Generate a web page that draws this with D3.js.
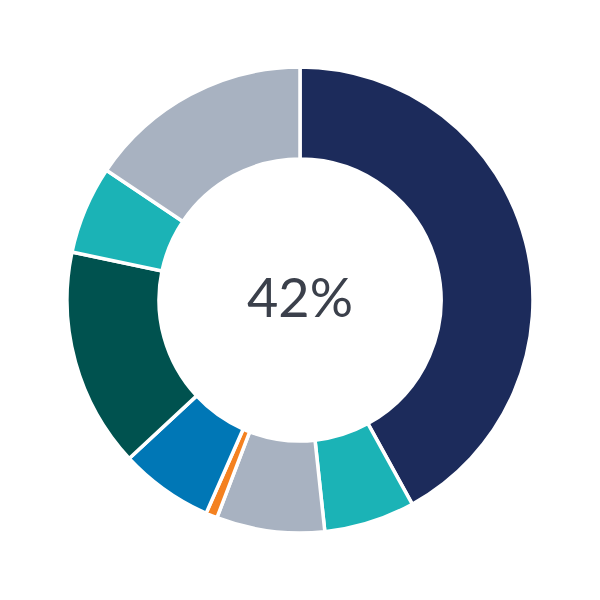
<!DOCTYPE html>
<html><head><meta charset="utf-8">
<script src="https://cdn.jsdelivr.net/npm/d3@7"></script>
<style>body{margin:0;background:#fff}</style>
</head><body>
<svg id="chart" width="600" height="600"></svg>
<script>
const categories = ["A","B","C","D","E","F","G","H"];
const values = [42, 6.3, 7.5, 0.8, 6.5, 15.2, 6.1, 15.6];
const colors = ["#1c2b5b","#1bb3b6","#a8b2c1","#f48120","#0077b6","#00524f","#1bb3b6","#a8b2c1"];
const centerLabel = "42%";

const svg = d3.select("#chart");
const g = svg.append("g").attr("transform","translate(300,300)");
const pie = d3.pie().sort(null).value(d=>d.v);
const arc = d3.arc().innerRadius(141).outerRadius(233);
const data = categories.map((c,i)=>({c, v:values[i], col:colors[i]}));
g.selectAll("path").data(pie(data)).join("path")
  .attr("d", arc).attr("fill", d=>d.data.col)
  .attr("stroke","#fff").attr("stroke-width",3.5);
g.append("text").attr("text-anchor","middle").attr("y",17)
  .attr("font-family","Lato, 'Open Sans', sans-serif").attr("font-size",54)
  .attr("fill","#3b404b").text(centerLabel);
</script>
</body></html>
